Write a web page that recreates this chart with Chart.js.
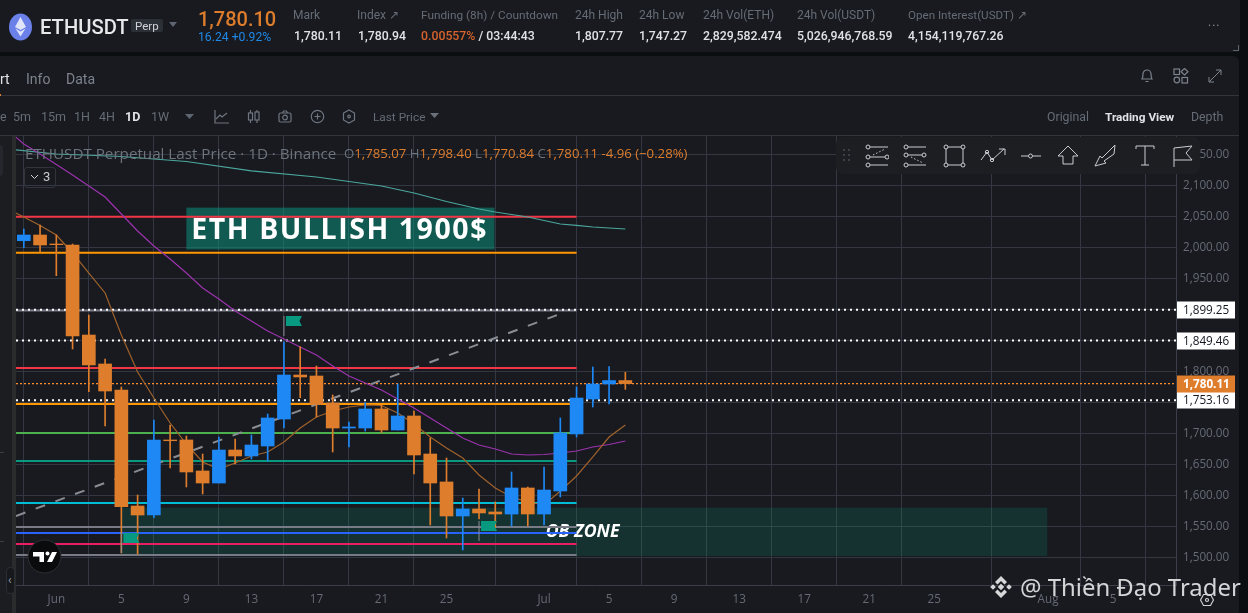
<!DOCTYPE html>
<html lang="en">
<head>
<meta charset="UTF-8">
<title>ETHUSDT Perp 1D</title>
<script src="https://cdn.jsdelivr.net/npm/chart.js"></script>
<style>
  html, body { margin: 0; padding: 0; width: 1248px; height: 613px; overflow: hidden; background: #0b0e11; font-family: Roboto, Arial, sans-serif; }
  #stage { position: absolute; left: 0; top: 0; width: 1248px; height: 613px; }
  .panel { position: absolute; background: #181a20; }
  #head { left: 0; top: 0; width: 1240px; height: 52px; border-bottom-right-radius: 4px; }
  #main { left: 0; top: 56px; width: 1239px; height: 557px; border-top-right-radius: 6px; }
  .rule { position: absolute; left: 0; width: 1239px; height: 1px; background: #2f343d; }
  #chartBox { position: absolute; left: 0; top: 0; width: 1248px; height: 613px; }
  .t { position: absolute; white-space: nowrap; font-size: 12px; line-height: 14px; color: #666c75; }
  .v { color: #dfe2e6; font-size: 12.3px; font-weight: 500; }
  .o { color: #de7d2c; }
  .ico { position: absolute; fill: none; stroke: #6f7680; stroke-width: 1.2; }
  #tools { position: absolute; left: 836px; top: 137px; width: 364px; height: 37px; background: #1d1e22; border-radius: 7px; }
  #tools svg { position: absolute; top: 7px; fill: none; stroke: #c9ccd1; stroke-width: 1; }
</style>
</head>
<body>
<div id="stage">
  <div class="panel" id="head"></div>
  <div class="panel" id="main"></div>
  <div class="rule" style="top:95px"></div>
  <div class="rule" style="top:135px"></div>
  <div style="position:absolute;left:0;top:136px;width:12px;height:477px;background:#1c1d21"></div>
  <div style="position:absolute;left:0;top:145px;width:3px;height:31px;background:#25272c;border-radius:0 3px 3px 0"></div>
  <div style="position:absolute;left:12px;top:136px;width:4px;height:477px;background:#2a2b2d"></div>
  <div style="position:absolute;left:0;top:452px;width:4px;height:1px;background:#3a3d44"></div>
  <div style="position:absolute;left:0;top:541px;width:4px;height:1px;background:#3a3d44"></div>
  <div style="position:absolute;left:6px;top:567px;width:7px;height:25px;border:1px solid #2a2d33;border-radius:4px;background:#16181c"></div>
  <div class="t" style="left:8px;top:573px;color:#9aa0a8">‹</div>

  <div id="chartBox"><canvas id="chart" width="1248" height="613"></canvas></div>

  <!-- symbol header -->
  <svg style="position:absolute;left:9px;top:13px" width="23" height="28" viewBox="0 0 23 28">
    <ellipse cx="11.5" cy="14" rx="11.5" ry="13.5" fill="#6b80e8"/>
    <path d="M11.5 4 L17 14 L11.5 17 L6 14 Z M11.5 18.5 L16.5 15.5 L11.5 23.5 L6.5 15.5 Z" fill="#dfe4fb"/>
  </svg>
  <div class="t" style="left:40px;top:15px;font-size:20.2px;line-height:24px;font-weight:500;color:#e6e8ea">ETHUSDT</div>
  <div style="position:absolute;left:131px;top:19px;width:32px;height:13px;background:#2b3036;border-radius:2px"></div>
  <div class="t" style="left:135px;top:19px;color:#d0d3d7;font-size:11.5px">Perp</div>
  <svg style="position:absolute;left:169px;top:22px" width="8" height="6"><path d="M0 0 H8 L4 5 Z" fill="#5e6673"/></svg>
  <div class="t" style="left:198px;top:7px;font-size:20px;line-height:24px;font-weight:500;color:#de7d2c">1,780.10</div>
  <div class="t" style="left:198px;top:30px;font-size:12.2px;color:#1e88e5">16.24 +0.92%</div>

  <div class="t" style="left:293px;top:8px">Mark</div>
  <div class="t v" style="left:294px;top:29px">1,780.11</div>
  <div class="t" style="left:357px;top:8px">Index ↗</div>
  <div class="t v" style="left:358px;top:29px">1,780.94</div>
  <div class="t" style="left:421px;top:8px;font-size:11.8px">Funding (8h) / Countdown</div>
  <div class="t v" style="left:421px;top:29px"><span class="o" style="color:#d8642c">0.00557%</span> / 03:44:43</div>
  <div class="t" style="left:575px;top:8px">24h High</div>
  <div class="t v" style="left:575px;top:29px">1,807.77</div>
  <div class="t" style="left:639px;top:8px">24h Low</div>
  <div class="t v" style="left:639px;top:29px">1,747.27</div>
  <div class="t" style="left:703px;top:8px">24h Vol(ETH)</div>
  <div class="t v" style="left:703px;top:29px">2,829,582.474</div>
  <div class="t" style="left:797px;top:8px">24h Vol(USDT)</div>
  <div class="t v" style="left:797px;top:29px">5,026,946,768.59</div>
  <div class="t" style="left:908px;top:8px;font-size:11.6px">Open Interest(USDT) ↗</div>
  <div class="t v" style="left:908px;top:29px">4,154,119,767.26</div>
  <div class="t" style="left:1208px;top:15px;letter-spacing:1px;color:#8a9099">...</div>
  <div style="position:absolute;left:1233px;top:45px;width:5px;height:5px;border-right:1.5px solid #5e636c;border-bottom:1.5px solid #5e636c"></div>

  <!-- tabs -->
  <div class="t" style="left:0;top:72px;font-size:14px;color:#e0e2e5">rt</div>
  <div class="t" style="left:26px;top:72px;font-size:14px;color:#7d838c">Info</div>
  <div class="t" style="left:66px;top:72px;font-size:14px;color:#7d838c">Data</div>
  <div style="position:absolute;left:0;top:94px;width:1px;height:2px;background:#de7d2c"></div>

  <!-- interval row -->
  <div class="t" style="left:0;top:110px;font-size:12.5px">e</div>
  <div class="t" style="left:13px;top:110px;font-size:12.5px">5m</div>
  <div class="t" style="left:41px;top:110px;font-size:12.5px">15m</div>
  <div class="t" style="left:74px;top:110px;font-size:12.5px">1H</div>
  <div class="t" style="left:99px;top:110px;font-size:12.5px">4H</div>
  <div class="t" style="left:125px;top:110px;font-size:12.5px;color:#e0e2e5;font-weight:700">1D</div>
  <div class="t" style="left:151px;top:110px;font-size:12.5px">1W</div>
  <svg style="position:absolute;left:185px;top:114px" width="9" height="6"><path d="M0 0 H9 L4.5 5 Z" fill="#5e6673"/></svg>
  <svg class="ico" style="left:214px;top:109px" width="15" height="15"><path d="M1 1 V14 H15 M2 10 L6 6 L8 8 L13 4"/></svg>
  <svg class="ico" style="left:247px;top:109px" width="14" height="15"><path d="M3.5 1 V14 M10 1 V14"/><rect x="1.5" y="4" width="4" height="7" fill="#181a20"/><rect x="8" y="3" width="4" height="8" fill="#181a20"/></svg>
  <svg class="ico" style="left:278px;top:110px" width="14" height="13"><rect x="1" y="3" width="12" height="9" rx="1.5"/><circle cx="7" cy="7.5" r="2.3"/><path d="M4.5 3 L5.5 1 H8.5 L9.5 3"/></svg>
  <svg class="ico" style="left:310px;top:109px" width="15" height="15"><circle cx="7.5" cy="7.5" r="6.2"/><path d="M7.5 4.5 V10.5 M4.5 7.5 H10.5"/></svg>
  <svg class="ico" style="left:342px;top:109px" width="14" height="15"><path d="M7 1 L12.5 4 V11 L7 14 L1.5 11 V4 Z"/><circle cx="7" cy="7.5" r="1.3"/></svg>
  <div class="t" style="left:373px;top:110px;font-size:11.8px">Last Price</div>
  <svg style="position:absolute;left:430px;top:113px" width="9" height="6"><path d="M0 0 H9 L4.5 5 Z" fill="#6a7079"/></svg>
  <div class="t" style="left:1047px;top:110px;font-size:12.3px">Original</div>
  <div class="t" style="left:1105px;top:110px;color:#dfe2e6;font-weight:700;font-size:11.8px">Trading View</div>
  <div class="t" style="left:1191px;top:110px;font-size:12.3px">Depth</div>

  <!-- top right icons -->
  <svg class="ico" style="left:1140px;top:68px;stroke:#7d838c" width="14" height="16"><path d="M2 11 C3 9 3 8 3 6 A4 4 0 0 1 11 6 C11 8 11 9 12 11 Z M5.5 13.5 H8.5"/></svg>
  <svg class="ico" style="left:1173px;top:68px;stroke:#7d838c" width="16" height="16"><rect x="1" y="1" width="5.5" height="5.5"/><path d="M11.5 0.5 L15 3.8 L11.5 7 L8 3.8 Z"/><circle cx="3.8" cy="12" r="2.8"/><rect x="9" y="9.5" width="5.5" height="5.5"/></svg>
  <svg class="ico" style="left:1208px;top:69px;stroke:#7d838c" width="14" height="14"><path d="M1 13 L13 1 M8 1 H13 V6 M1 8 V13 H6" stroke-width="1"/></svg>

  <!-- legend line -->
  <div class="t" style="left:25px;top:145px;font-family:'Open Sans',sans-serif;font-size:15.2px;line-height:16px;color:#6e747d">ETHUSDT Perpetual Last Price · 1D · Binance</div>
  <div class="t" style="left:344px;top:145px;font-family:'Open Sans',sans-serif;font-size:13.2px;line-height:16px;color:#6e747d">O<span class="o">1,785.07</span> H<span class="o">1,798.40</span> L<span class="o">1,770.84</span> C<span class="o">1,780.11</span> <span class="o">-4.96 (−0.28%)</span></div>
  <div style="position:absolute;left:24px;top:167px;width:30px;height:19px;border:1px solid #30343b;border-radius:3px"></div>
  <svg style="position:absolute;left:30px;top:174px" width="9" height="6"><path d="M1 1 L4.5 4.5 L8 1" fill="none" stroke="#d0d3d7"/></svg>
  <div class="t" style="left:43px;top:170px;color:#c8cbd0;font-size:13px">3</div>

  <!-- drawing toolbar -->
  <div id="tools">
    <svg style="left:5px" width="12" height="24"><g fill="#3c3f45" stroke="none"><rect x="2" y="5" width="2" height="2"/><rect x="7" y="5" width="2" height="2"/><rect x="2" y="10" width="2" height="2"/><rect x="7" y="10" width="2" height="2"/><rect x="2" y="15" width="2" height="2"/><rect x="7" y="15" width="2" height="2"/></g></svg>
    <svg style="left:29px" width="24" height="24"><path d="M5 3 H23 M5 13 H20 M5 21 H23"/><path d="M8 11 L20 5" stroke-dasharray="1.5 2"/><circle cx="3" cy="3" r="2"/><circle cx="3" cy="13" r="2"/><circle cx="22" cy="13" r="2"/><circle cx="3" cy="21" r="2"/></svg>
    <svg style="left:67px" width="24" height="24"><path d="M5 3 H23 M5 11 H19 M5 21 H23"/><path d="M8 13 L20 19" stroke-dasharray="1.5 2"/><circle cx="3" cy="3" r="2"/><circle cx="3" cy="11" r="2"/><circle cx="21" cy="11" r="2"/><circle cx="3" cy="21" r="2"/></svg>
    <svg style="left:107px" width="24" height="24"><rect x="3" y="3" width="17" height="18"/><circle cx="3" cy="3" r="2" fill="#1d1e22"/><circle cx="20" cy="3" r="2" fill="#1d1e22"/><circle cx="3" cy="21" r="2" fill="#1d1e22"/><circle cx="20" cy="21" r="2" fill="#1d1e22"/></svg>
    <svg style="left:144px" width="26" height="24"><path d="M1 16 L7 8 L12 16 L24 5 M19 5 H25 V11"/><circle cx="7" cy="8" r="1.7"/><circle cx="12" cy="16" r="1.7"/></svg>
    <svg style="left:183px" width="24" height="24"><path d="M2 12 H9 M14 12 H22"/><circle cx="11.5" cy="12" r="2"/></svg>
    <svg style="left:220px" width="24" height="24"><path d="M12 2 L22 12 H17 V20 H7 V12 H2 Z"/></svg>
    <svg style="left:258px" width="24" height="24"><path d="M1 22 L6 12 L8 14 L21 1 L20 10 L10 17 L12 19 Z"/></svg>
    <svg style="left:297px" width="24" height="24"><path d="M3 2 H21 M3 2 V5 M21 2 V5 M12 2 V21 M8 21 H16"/></svg>
    <svg style="left:336px;" width="22" height="24"><path d="M2 23 V4 L20 2 L14 9 L20 16 H2"/></svg>
  </div>

  <!-- tradingview badge -->
  <svg style="position:absolute;left:27px;top:539px" width="35" height="35">
    <circle cx="17.5" cy="17.5" r="16.5" fill="#0a0b0d" stroke="#2e3036" stroke-width="1"/>
    <path d="M6 13 H17 V23 H12.5 V17.5 H6 Z M25 13 L20 23 H25 L30 13 Z" fill="#fff"/>
    <circle cx="20.5" cy="14.5" r="2" fill="#fff"/>
  </svg>

  <!-- watermark -->
  <svg style="position:absolute;left:987px;top:573px" width="28" height="28" viewBox="0 0 28 28">
    <g fill="#d6d7d9"><path d="M14 3 L20 9 L17.5 11.5 L14 8 L10.5 11.5 L8 9 Z M14 25 L8 19 L10.5 16.5 L14 20 L17.5 16.5 L20 19 Z"/><rect x="11.7" y="11.7" width="4.6" height="4.6" transform="rotate(45 14 14)"/><rect x="4" y="12" width="4" height="4" transform="rotate(45 6 14)"/><rect x="20" y="12" width="4" height="4" transform="rotate(45 22 14)"/></g>
  </svg>
  <div class="t" style="left:1020px;top:570px;font-family:'Noto Sans',sans-serif;font-size:23.9px;line-height:34px;color:#d4d5d7">@ Thiền Đạo Trader</div>
  <svg class="ico" style="left:1200px;top:593px;stroke:#d0d2d5" width="14" height="14"><path d="M3.5 1.5 H10.5 L13.5 7 L10.5 12.5 H3.5 L0.5 7 Z"/><circle cx="7" cy="7" r="1.5"/></svg>
</div>

<script>
  // Days are counted from 1 June, prices in USDT.
  const candleDays = [-2,-1,0,1,2,3,4,5,6,7,8,9,10,11,12,13,14,15,16,17,18,19,20,21,22,23,24,25,26,27,28,29,30,31,32,33,34,35];
  const opens  = [2010.6,2019.8,2005.3,2003.7,1858.5,1811.8,1769.8,1582.7,1568.2,1689.2,1689.2,1639.2,1619.8,1673,1663.4,1679.5,1723,1794,1792.4,1748.9,1708.5,1708.5,1739.2,1705.3,1727.9,1666.6,1621.5,1566.6,1577.9,1573.1,1569.8,1611.8,1569.8,1606.9,1698.9,1755.3,1779.5,1785.07];
  const highs  = [2029.5,2036,2019.8,2005.3,1890.8,1819.8,1774.7,1600.5,1721.5,1713.4,1695.6,1666.6,1694,1690.8,1697.3,1731.1,1847.7,1839.7,1808.5,1761.8,1718.2,1749.4,1745.6,1779.5,1736,1692.4,1660.2,1595.6,1610.2,1589.2,1637.6,1613.4,1645.6,1724.7,1774.7,1806.9,1807.77,1798.4];
  const lows   = [1999.4,1992.4,1954.2,1836,1767.1,1711.8,1506.9,1505.3,1563.9,1644,1613.4,1602.1,1619.8,1650.5,1658.5,1655.3,1708.5,1757.4,1726.3,1669.8,1677.9,1703.7,1701,1705.3,1634.4,1552.1,1531.1,1511.8,1561.8,1547.3,1550.5,1550.5,1552.1,1597.3,1694,1742.4,1747.3,1770.84];
  const closes = [2019.8,2003.7,2004.2,1856.9,1810.2,1768.2,1581.6,1568.2,1689.2,1688,1637.6,1619.8,1673,1663.4,1681.1,1724.7,1794,1790.8,1746.8,1708.5,1710.2,1739.2,1705.3,1727.9,1665,1619.8,1566.6,1577.9,1571.5,1569.8,1611.8,1569.8,1608.5,1700.5,1756.9,1779.5,1785.07,1780.11];

  const maDays = [-3,-2,-1,0,1,2,3,4,5,6,7,8,9,10,11,12,13,14,15,16,17,18,19,20,21,22,23,24,25,26,27,28,29,30,31,32,33,34,35];
  const maFast = [2061.8,2048.9,2035.2,2019.8,1990.8,1958.5,1926.3,1858.5,1798.9,1756.9,1716.6,1682.7,1653.7,1642.4,1652.1,1663.4,1669.8,1686,1708.5,1726.3,1736,1742.4,1745.6,1744.8,1732.7,1715,1694,1676.3,1660.2,1632.7,1611.8,1597.3,1589.2,1584.4,1606.9,1631.1,1661.8,1694,1713.4];
  const maMid  = [2189.2,2166.6,2150.5,2133.5,2116.6,2098.9,2081.1,2053.7,2026.3,2002.1,1981.1,1958.5,1934.4,1916.6,1897.3,1881.1,1865,1852.1,1839.2,1826.3,1808.5,1792.4,1781.1,1769.8,1755.3,1740.8,1724.7,1708.5,1692.4,1681.1,1674.7,1666.6,1665,1665.8,1668.2,1671.4,1677.9,1681.9,1687.6];
  const maSlowDays = [-3,0,4,8,12,16,20,22,24,26,27,28,29,30,31,32,33,34,35];
  const maSlow = [2158.6,2150.5,2146.4,2138.4,2123.1,2113.4,2098.9,2087.6,2073.9,2061.8,2056.9,2052.9,2048.9,2043.2,2037.6,2035.2,2032.7,2031.1,2029.5];

  const xTickDays = [0,4,8,12,16,20,24,30,34,38,42,46,50,54,61,65];
  const xTickLabels = ['Jun','5','9','13','17','21','25','Jul','5','9','13','17','21','25','Aug','5'];
  const yTicks = [1500,1550,1600,1650,1700,1750,1800,1850,1900,1950,2000,2050,2100,2150];

  const levelValues = [2049.4,1991.3,1898,1805.3,1747.3,1700.5,1655.3,1587.6,1548.9,1539.2,1521.5,1503.7];
  const levelColors = ['#f23645','#ff9800','#787b86','#f23645','#ff9800','#4caf50','#089981','#00bcd4','#787b86','#2962ff','#e91e63','#787b86'];
  const levelEndDay = 32;

  const dottedValues = [1899.25,1849.46,1753.16];
  const lastPrice = 1780.11;

  const trendDays = [-2.48,31.3];
  const trendValues = [1566.6,1895.6];

  const flagDays = [14,4,26];
  const flagValues = [1889.2,1539.2,1558.5];

  const xMin = -2.48, xMax = 68.87, yMin = 1455.3, yMax = 2179.5;
  const upColor = '#1e88f5', downColor = '#de7d2c';
  const gridColor = '#333741';
  const axisFont = "'Open Sans', sans-serif";
  const money = v => v.toLocaleString('en-US', {minimumFractionDigits: 2, maximumFractionDigits: 2});
  const candleColor = i => closes[i] >= opens[i] ? upColor : downColor;

  // zones, banner text, flags and price tags sit on the chart scales
  const overlay = {
    id: 'overlay',
    beforeDatasetsDraw(chart) {
      const {ctx, scales: {x, y}, chartArea: a} = chart;
      ctx.save();
      ctx.beginPath(); ctx.rect(a.left, a.top, a.width, a.height); ctx.clip();
      ctx.fillStyle = 'rgba(8,150,120,0.2)';
      ctx.fillRect(x.getPixelForValue(4), y.getPixelForValue(1580), x.getPixelForValue(60.95) - x.getPixelForValue(4), y.getPixelForValue(1502) - y.getPixelForValue(1580));
      ctx.fillStyle = 'rgba(8,153,129,0.5)';
      ctx.fillRect(x.getPixelForValue(8), y.getPixelForValue(2064), x.getPixelForValue(26.95) - x.getPixelForValue(8), y.getPixelForValue(1996.5) - y.getPixelForValue(2064));
      ctx.fillStyle = '#fff';
      ctx.textBaseline = 'alphabetic';
      ctx.font = "bold 28.5px " + axisFont;
      ctx.letterSpacing = '1.55px';
      ctx.fillText('ETH BULLISH 1900$', x.getPixelForValue(8.3), y.getPixelForValue(2014));
      ctx.letterSpacing = '0px';
      ctx.font = "italic bold 17.7px " + axisFont;
      ctx.fillText('OB ZONE', x.getPixelForValue(30.1), y.getPixelForValue(1532));
      ctx.restore();
    },
    afterDatasetsDraw(chart) {
      const {ctx, scales: {x, y}, chartArea: a} = chart;
      ctx.save();
      flagDays.forEach((d, i) => {
        const px = x.getPixelForValue(d), py = y.getPixelForValue(flagValues[i]);
        ctx.fillStyle = '#8a8d94';
        ctx.fillRect(px - 0.5, py, 1, 20);
        ctx.fillStyle = '#089981';
        ctx.beginPath();
        ctx.moveTo(px + 2, py); ctx.lineTo(px + 18, py); ctx.lineTo(px + 15.5, py + 5);
        ctx.lineTo(px + 18, py + 10); ctx.lineTo(px + 2, py + 10); ctx.closePath(); ctx.fill();
      });
      // price tags on the right axis
      ctx.textAlign = 'left';
      ctx.textBaseline = 'middle';
      ctx.font = "11.7px " + axisFont;
      dottedValues.forEach(v => {
        const py = Math.round(y.getPixelForValue(v));
        ctx.fillStyle = '#fff';
        ctx.fillRect(a.right + 1, py - 8.5, 58, 17);
        ctx.fillStyle = '#131722';
        ctx.fillText(money(v), a.right + 7, py + 0.5);
      });
      const py = Math.round(y.getPixelForValue(lastPrice));
      ctx.fillStyle = downColor;
      ctx.fillRect(a.right + 1, py - 8.5, 58, 17);
      ctx.fillStyle = '#fff';
      ctx.font = "bold 11.7px " + axisFont;
      ctx.fillText(money(lastPrice), a.right + 7, py + 0.5);
      ctx.restore();
    }
  };

  const levelSets = levelValues.map((v, i) => ({
    type: 'line',
    data: [{x: xMin, y: v}, {x: levelEndDay, y: v}],
    borderColor: levelColors[i], borderWidth: 2, pointRadius: 0, order: 6
  }));
  const dottedSets = dottedValues.map(v => ({
    type: 'line',
    data: [{x: xMin, y: v}, {x: xMax, y: v}],
    borderColor: '#fff', borderWidth: 2, borderDash: [2, 4], pointRadius: 0, order: 5
  }));

  new Chart(document.getElementById('chart'), {
    data: {
      datasets: [
        ...levelSets,
        ...dottedSets,
        {type: 'line', data: [{x: xMin, y: lastPrice}, {x: xMax, y: lastPrice}], borderColor: '#ff8c2e', borderWidth: 1.3, borderDash: [2, 2], pointRadius: 0, order: 5},
        {type: 'line', data: trendDays.map((d, i) => ({x: d, y: trendValues[i]})), borderColor: '#8a8d94', borderWidth: 2, borderDash: [10, 11], pointRadius: 0, order: 4},
        {type: 'line', data: maDays.map((d, i) => ({x: d, y: maFast[i]})), borderColor: '#a0622a', borderWidth: 1.2, pointRadius: 0, order: 3},
        {type: 'line', data: maDays.map((d, i) => ({x: d, y: maMid[i]})), borderColor: '#9c33ad', borderWidth: 1.2, pointRadius: 0, order: 3},
        {type: 'line', data: maSlowDays.map((d, i) => ({x: d, y: maSlow[i]})), borderColor: '#4ba79d', borderWidth: 1.2, pointRadius: 0, order: 3},
        {type: 'bar', data: candleDays.map((d, i) => ({x: d, y: [lows[i], highs[i]]})), backgroundColor: candleDays.map((d, i) => candleColor(i)), barThickness: 1, grouped: false, order: 2},
        {type: 'bar', data: candleDays.map((d, i) => ({x: d, y: [opens[i], closes[i]]})), backgroundColor: candleDays.map((d, i) => candleColor(i)), barThickness: 13, grouped: false, order: 1}
      ]
    },
    options: {
      responsive: false,
      animation: false,
      plugins: {legend: {display: false}, tooltip: {enabled: false}},
      layout: {padding: {left: 16, top: 136, right: 0, bottom: 0}},
      scales: {
        x: {
          type: 'linear', min: xMin, max: xMax, offset: false,
          grid: {color: gridColor, drawTicks: false},
          border: {color: '#3a3e48'},
          afterFit(s) { s.height = 28; },
          afterBuildTicks(s) { s.ticks = xTickDays.map(v => ({value: v})); },
          ticks: {
            autoSkip: false, maxRotation: 0, padding: 8, color: '#666b75',
            font: {family: axisFont, size: 11.7},
            callback: (v) => xTickLabels[xTickDays.indexOf(v)]
          }
        },
        y: {
          position: 'right', min: yMin, max: yMax,
          grid: {color: gridColor, drawTicks: false},
          border: {color: '#3a3e48'},
          afterFit(s) { s.width = 72; },
          afterBuildTicks(s) { s.ticks = yTicks.map(v => ({value: v})); },
          ticks: {
            padding: 7, color: '#666b75',
            font: {family: axisFont, size: 11.7},
            callback: v => money(v)
          }
        }
      }
    },
    plugins: [overlay]
  });
</script>
</body>
</html>
